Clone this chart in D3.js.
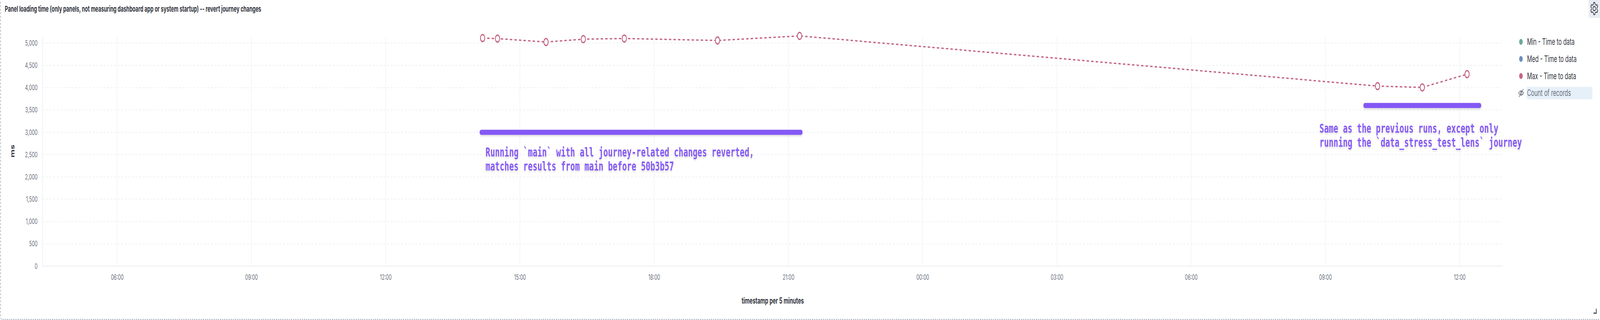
<!DOCTYPE html>
<html><head><meta charset="utf-8">
<script src="https://cdn.jsdelivr.net/npm/d3@7"></script>
<style>
html,body{margin:0;padding:0;background:#fff;overflow:hidden;}
svg{display:block;font-family:Inter,"Noto Sans",sans-serif;}
</style></head><body>
<svg id="chart"></svg>
<script>
// ---------- data ----------
const chartTitle = "Panel loading time (only panels, not measuring dashboard app or system startup) -- revert journey changes";
const xAxisTitle = "timestamp per 5 minutes";
const yAxisTitle = "ms";
const timestamps = [
  "2023-05-10T14:10","2023-05-10T14:30","2023-05-10T15:35","2023-05-10T16:25","2023-05-10T17:20",
  "2023-05-10T19:25","2023-05-10T21:15","2023-05-11T10:10","2023-05-11T11:10","2023-05-11T12:10"
];
const maxValues = [5111, 5099, 5023, 5087, 5102, 5058, 5160, 4035, 4006, 4302];
const xDomain = ["2023-05-10T04:20", "2023-05-11T12:58"];
const yTickValues = [0, 500, 1000, 1500, 2000, 2500, 3000, 3500, 4000, 4500, 5000];
const legendLabels = ["Min - Time to data", "Med - Time to data", "Max - Time to data", "Count of records"];
const legendHidden = [false, false, false, true];
const annotationBarStarts = ["2023-05-10T14:06", "2023-05-11T09:51"];
const annotationBarEnds = ["2023-05-10T21:19", "2023-05-11T12:29"];
const annotationBarValues = [3000, 3600];
const annotationTextTimes = ["2023-05-10T14:14", "2023-05-11T08:52"];
const annotationTextValues = [2457, 2995];
const annotationLines = [
  ["Running `main` with all journey-related changes reverted,", "matches results from main before 50b3b57"],
  ["Same as the previous runs, except only", "running the `data_stress_test_lens` journey"]
];

// ---------- styles ----------
const legendColors = ["#6aaa96", "#6b8fbf", "#c46782"];
const lineColor = "#c46782";
const annoColor = "#8458f5";
const gridColor = "#eceef2";
const tickColor = "#69707d";
const textDark = "#343741";

// design canvas is 6688x820; it is fitted to the real window (which may be narrower)
const W = 6688, H = 820;
const svg = d3.select("#chart")
  .attr("width", window.innerWidth || W).attr("height", window.innerHeight || H)
  .attr("viewBox", `0 0 ${W} ${H}`).attr("preserveAspectRatio", "none");
const M = {left: 178, right: 6282, top: 92, bottom: 682};
const parse = d3.timeParse("%Y-%m-%dT%H:%M");

const defs = svg.append("defs");
const sh = defs.append("filter").attr("id","shadow").attr("x","-5%").attr("y","-50%").attr("width","110%").attr("height","250%");
sh.append("feDropShadow").attr("dx",0).attr("dy",3).attr("stdDeviation",2.5).attr("flood-color","#000").attr("flood-opacity",0.16);

const x = d3.scaleTime().domain(xDomain.map(parse)).range([M.left, M.right]);
const y = d3.scaleLinear().domain([0, d3.max(maxValues)]).range([M.bottom, M.top]);

// panel border
svg.append("rect").attr("x",2.5).attr("y",-10).attr("width",W+20).attr("height",828.5)
  .attr("rx",6).attr("fill","none").attr("stroke","#98a2b3").attr("stroke-width",2).attr("stroke-dasharray","5,4");

svg.append("text").attr("x",20).attr("y",30).attr("font-size",20.5).attr("font-weight",700)
  .attr("fill",textDark).text(chartTitle);

// settings button
svg.append("path").attr("d",`M6640,0 H${W} V46 H6647 Q6640,46 6640,39 Z`).attr("fill","#e9edf3");
(function(){
  const cx=6664, cy=22, pts=[];
  for(let k=0;k<6;k++){
    const a=k*Math.PI/3, d=Math.PI/180;
    pts.push([a-19*d,11.5],[a-10*d,15.5],[a+10*d,15.5],[a+19*d,11.5]);
  }
  const g=svg.append("g").attr("transform",`translate(${cx},${cy})`);
  g.append("path").attr("d",d3.lineRadial().angle(p=>p[0]).radius(p=>p[1]).curve(d3.curveLinearClosed)(pts))
    .attr("fill","none").attr("stroke",textDark).attr("stroke-width",2.3).attr("stroke-linejoin","round");
  g.append("circle").attr("r",5.5).attr("fill","none").attr("stroke",textDark).attr("stroke-width",2.3);
})();

// grid
const xTicks = x.ticks(d3.timeHour.every(3));
svg.append("g").selectAll("line").data(xTicks).join("line")
  .attr("x1",d=>x(d)).attr("x2",d=>x(d)).attr("y1",M.top).attr("y2",M.bottom)
  .attr("stroke","#eef0f4").attr("stroke-width",2);
svg.append("g").selectAll("line").data(yTickValues.filter(v=>v>0)).join("line")
  .attr("x1",M.left).attr("x2",M.right).attr("y1",d=>y(d)).attr("y2",d=>y(d))
  .attr("stroke",gridColor).attr("stroke-width",2).attr("stroke-dasharray","7,8");

// axes
const yAxis = svg.append("g").attr("transform",`translate(${M.left},0)`)
  .call(d3.axisLeft(y).tickValues(yTickValues).tickFormat(d3.format(",")).tickSize(0).tickPadding(21));
yAxis.select(".domain").attr("stroke","#eef0f4").attr("stroke-width",2.5).attr("d",`M0,${M.top}V${M.bottom}`);
yAxis.selectAll("text").attr("font-size",19).attr("fill",tickColor).attr("font-family","Inter");

const xAxis = svg.append("g").attr("transform",`translate(0,${M.bottom})`)
  .call(d3.axisBottom(x).ticks(d3.timeHour.every(3)).tickFormat(d3.timeFormat("%H:%M")).tickSize(0));
xAxis.select(".domain").attr("stroke","#eef0f4").attr("stroke-width",2.5).attr("d",`M${M.left},0H${M.right}`);
xAxis.selectAll("text").attr("y",28).attr("dy","0.35em").attr("font-size",19).attr("fill",tickColor).attr("font-family","Inter");

svg.append("text").attr("x",(M.left+M.right)/2).attr("y",770).attr("dy","0.35em").attr("text-anchor","middle")
  .attr("font-size",21.5).attr("font-weight",700).attr("fill",textDark).text(xAxisTitle);
svg.append("text").attr("transform",`translate(53,${(M.top+M.bottom)/2}) rotate(-90)`).attr("dy","0.35em")
  .attr("text-anchor","middle").attr("font-size",22).attr("font-weight",700).attr("fill",textDark).text(yAxisTitle);

// series
const pts = timestamps.map((t,i)=>({t:parse(t), v:maxValues[i]}));
svg.append("path").datum(pts)
  .attr("d",d3.line().x(d=>x(d.t)).y(d=>y(d.v)))
  .attr("fill","none").attr("stroke",lineColor).attr("stroke-width",3.5).attr("stroke-dasharray","10,9");
svg.append("g").selectAll("circle").data(pts).join("circle")
  .attr("cx",d=>x(d.t)).attr("cy",d=>y(d.v)).attr("r",9)
  .attr("fill","#fff").attr("stroke",lineColor).attr("stroke-width",3.5);

// annotations
const ag = svg.append("g");
annotationBarStarts.forEach((s,i)=>{
  const x0 = x(parse(s)), x1 = x(parse(annotationBarEnds[i])), yc = y(annotationBarValues[i]);
  ag.append("rect").attr("x",x0).attr("y",yc-6.5).attr("width",x1-x0).attr("height",13).attr("rx",6.5)
    .attr("fill",annoColor).attr("filter","url(#shadow)");
});
annotationTextTimes.forEach((t,i)=>{
  const tx = ag.append("text").attr("x",x(parse(t))).attr("y",y(annotationTextValues[i]))
    .attr("font-family","'DejaVu Sans Mono', monospace").attr("font-weight",700).attr("font-size",32.7)
    .attr("fill",annoColor).attr("filter","url(#shadow)");
  annotationLines[i].forEach((ln,j)=>{
    tx.append("tspan").attr("x",x(parse(t))).attr("dy", j===0?0:36).attr("xml:space","preserve").text(ln);
  });
});

// legend
const lg = svg.append("g");
legendLabels.forEach((lab,i)=>{
  const cy = 107.3 + i*43.7;
  if(legendHidden[i]){
    lg.append("rect").attr("x",6381).attr("y",cy-16).attr("width",275).attr("height",32).attr("rx",5).attr("fill","#e6f0f9");
    const ic = lg.append("g").attr("transform",`translate(6358.5,${cy})`).attr("fill","none")
      .attr("stroke",tickColor).attr("stroke-width",1.8).attr("stroke-linecap","round");
    ic.append("path").attr("d","M-11,0 Q0,-11 11,0 Q0,11 -11,0 Z");
    ic.append("circle").attr("r",4);
    ic.append("line").attr("x1",-9).attr("y1",10).attr("x2",9).attr("y2",-10);
    lg.append("text").attr("x",6383).attr("y",cy).attr("dy","0.35em").attr("font-size",23).attr("fill",tickColor).text(lab);
  } else {
    lg.append("circle").attr("cx",6357.6).attr("cy",cy).attr("r",7.5).attr("fill",legendColors[i]);
    lg.append("text").attr("x",6383).attr("y",cy).attr("dy","0.35em").attr("font-size",23).attr("fill",textDark).text(lab);
  }
});

// resize handle
svg.append("path").attr("d","M6672.5,791 V802.5 H6661").attr("fill","none").attr("stroke","#535966").attr("stroke-width",3.5);
</script>
</body></html>
